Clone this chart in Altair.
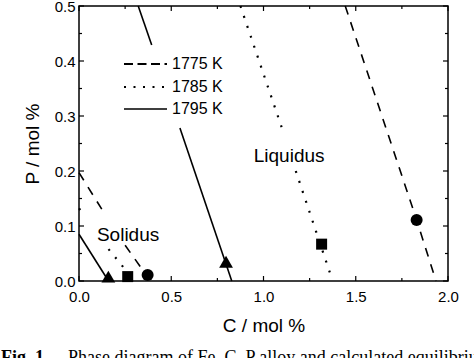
import altair as alt
import pandas as pd

# ---------------- data ----------------
series = ["1775 K", "1785 K", "1795 K"]

# curves: (series, segment) -> C values, P values
liq_1775_C = [1.443, 1.83, 1.935]
liq_1775_P = [0.5, 0.111, 0.0]
sol_1775a_C = [0.0, 0.132]
sol_1775a_P = [0.197, 0.126]
sol_1775b_C = [0.25, 0.36]
sol_1775b_P = [0.065, 0.013]

liq_1785a_C = [0.875, 1.11]
liq_1785a_P = [0.5, 0.268]
liq_1785b_C = [1.175, 1.37]
liq_1785b_P = [0.2, 0.005]
sol_1785a_C = [0.0, 0.03]
sol_1785a_P = [0.132, 0.12]
sol_1785b_C = [0.16, 0.265]
sol_1785b_P = [0.058, 0.015]

liq_1795a_C = [0.321, 0.394]
liq_1795a_P = [0.5, 0.429]
liq_1795b_C = [0.547, 0.828]
liq_1795b_P = [0.278, 0.0]
sol_1795_C = [0.0, 0.16]
sol_1795_P = [0.085, 0.0]

# calculated equilibrium points
circle_C = [0.372, 1.83]
circle_P = [0.011, 0.111]
square_C = [0.264, 1.315]
square_P = [0.008, 0.067]
triangle_C = [0.159, 0.797]
triangle_P = [0.008, 0.035]

# annotations
label_text = ["Liquidus", "Solidus"]
label_C = [1.139, 0.266]
label_P = [0.217, 0.073]

x_major = [0.0, 0.5, 1.0, 1.5, 2.0]
x_minor = [0.25, 0.75, 1.25, 1.75]
y_major = [0.0, 0.1, 0.2, 0.3, 0.4, 0.5]
y_minor = [0.05, 0.15, 0.25, 0.35, 0.45]

caption_bold = "Fig. 1"
caption_text = "Phase diagram of Fe–C–P alloy and calculated equilibrium"

# ---------------- build tables ----------------
def seg_df(name, segs):
    rows = []
    for si, (cs, ps) in enumerate(segs):
        for i, (c, p) in enumerate(zip(cs, ps)):
            rows.append({"series": name, "seg": f"{name}-{si}", "ord": i, "C": c, "P": p})
    return pd.DataFrame(rows)

d1775 = seg_df("1775 K", [(liq_1775_C, liq_1775_P), (sol_1775a_C, sol_1775a_P), (sol_1775b_C, sol_1775b_P)])
d1785 = seg_df("1785 K", [(liq_1785a_C, liq_1785a_P), (liq_1785b_C, liq_1785b_P),
                          (sol_1785a_C, sol_1785a_P), (sol_1785b_C, sol_1785b_P)])
d1795 = seg_df("1795 K", [(liq_1795a_C, liq_1795a_P), (liq_1795b_C, liq_1795b_P), (sol_1795_C, sol_1795_P)])

W, H = 369, 275
FONT = "Liberation Sans"

xs = alt.Scale(domain=[0, 2.0], nice=False, zero=False)
ys = alt.Scale(domain=[0, 0.5], nice=False, zero=False)

xax = alt.Axis(values=x_major, format=".1f", ticks=False, domain=False, grid=False,
               labelFlush=False, labelOverlap=False,
               labelFontSize=15, labelPadding=8, title="C / mol %", titleFontSize=19,
               titleFontWeight="normal", titlePadding=12)
yax = alt.Axis(values=y_major, format=".1f", ticks=False, domain=False, grid=False,
               labelFlush=False, labelOverlap=False,
               labelFontSize=15, labelPadding=4, title="P / mol %", titleFontSize=19,
               titleFontWeight="normal", titlePadding=12)

X = lambda: alt.X("C:Q", scale=xs, axis=xax)
Y = lambda: alt.Y("P:Q", scale=ys, axis=yax)

l1775 = alt.Chart(d1775).mark_line(color="black", strokeWidth=1.6, strokeDash=[9, 8]).encode(
    x=X(), y=Y(), detail="seg:N", order="ord:Q")
l1785 = alt.Chart(d1785).mark_line(color="black", strokeWidth=2.2, strokeDash=[2, 8.5]).encode(
    x=X(), y=Y(), detail="seg:N", order="ord:Q")
l1795 = alt.Chart(d1795).mark_line(color="black", strokeWidth=1.6).encode(
    x=X(), y=Y(), detail="seg:N", order="ord:Q")

circ = alt.Chart(pd.DataFrame({"C": circle_C, "P": circle_P})).mark_point(
    shape="circle", filled=True, color="black", size=144, opacity=1).encode(x=X(), y=Y())
sq = alt.Chart(pd.DataFrame({"C": square_C, "P": square_P})).mark_point(
    shape="square", filled=True, color="black", size=121, opacity=1).encode(x=X(), y=Y())
tri = alt.Chart(pd.DataFrame({"C": triangle_C, "P": triangle_P})).mark_point(
    shape="triangle-up", filled=True, color="black", size=190, opacity=1).encode(x=X(), y=Y())

labels = alt.Chart(pd.DataFrame({"t": label_text, "C": label_C, "P": label_P})).mark_text(
    font=FONT, fontSize=19, color="black", align="center", baseline="alphabetic").encode(
    x=X(), y=Y(), text="t:N")

# inward ticks on all four sides
def xticks(vals, length):
    df = pd.DataFrame({"C": vals})
    b = alt.Chart(df).mark_rule(color="black", strokeWidth=1.2).encode(
        x=X(), y=alt.value(H), y2=alt.value(H - length))
    t = alt.Chart(df).mark_rule(color="black", strokeWidth=1.2).encode(
        x=X(), y=alt.value(0), y2=alt.value(length))
    return b + t

def yticks(vals, length):
    df = pd.DataFrame({"P": vals})
    l = alt.Chart(df).mark_rule(color="black", strokeWidth=1.2).encode(
        y=Y(), x=alt.value(0), x2=alt.value(length))
    r = alt.Chart(df).mark_rule(color="black", strokeWidth=1.2).encode(
        y=Y(), x=alt.value(W), x2=alt.value(W - length))
    return l + r

ticks = xticks(x_major, 5) + xticks(x_minor, 3) + yticks(y_major, 5) + yticks(y_minor, 3)

# manual legend
one = pd.DataFrame({"k": [0]})
leg_y = [58, 81, 103]
leg_dash = [[9, 4.5], [2, 7.5], [1, 0]]
leg_w = [2.2, 2.2, 1.6]
legend_layers = []
for name, yy, dash, w in zip(series, leg_y, leg_dash, leg_w):
    legend_layers.append(alt.Chart(one).mark_rule(color="black", strokeWidth=w, strokeDash=dash).encode(
        x=alt.value(45), x2=alt.value(88), y=alt.value(yy)))
    legend_layers.append(alt.Chart(one).mark_text(font=FONT, fontSize=16, color="black", align="left",
                                                  baseline="middle", text=name).encode(
        x=alt.value(93), y=alt.value(yy)))

caption = (
    alt.Chart(one).mark_text(font="Liberation Serif", fontSize=18, fontWeight="bold", color="black",
                             align="left", baseline="top", text=caption_bold).encode(
        x=alt.value(-78), y=alt.value(H + 68))
    + alt.Chart(one).mark_text(font="Liberation Serif", fontSize=18, color="black",
                               align="left", baseline="top", text=caption_text).encode(
        x=alt.value(-11), y=alt.value(H + 68))
)

chart = alt.layer(
    ticks, l1775, l1785, l1795, circ, sq, tri, labels, *legend_layers, caption
).properties(
    width=W, height=H,
    autosize=alt.AutoSizeParams(type="none"),
    padding={"left": 79, "top": 6, "right": 26, "bottom": 77},
).configure_view(
    stroke="black", strokeWidth=1.5
).configure_axis(
    labelFont=FONT, titleFont=FONT, labelColor="black", titleColor="black"
)

chart.save("out.html", embed_options={"renderer": "svg", "actions": False})
